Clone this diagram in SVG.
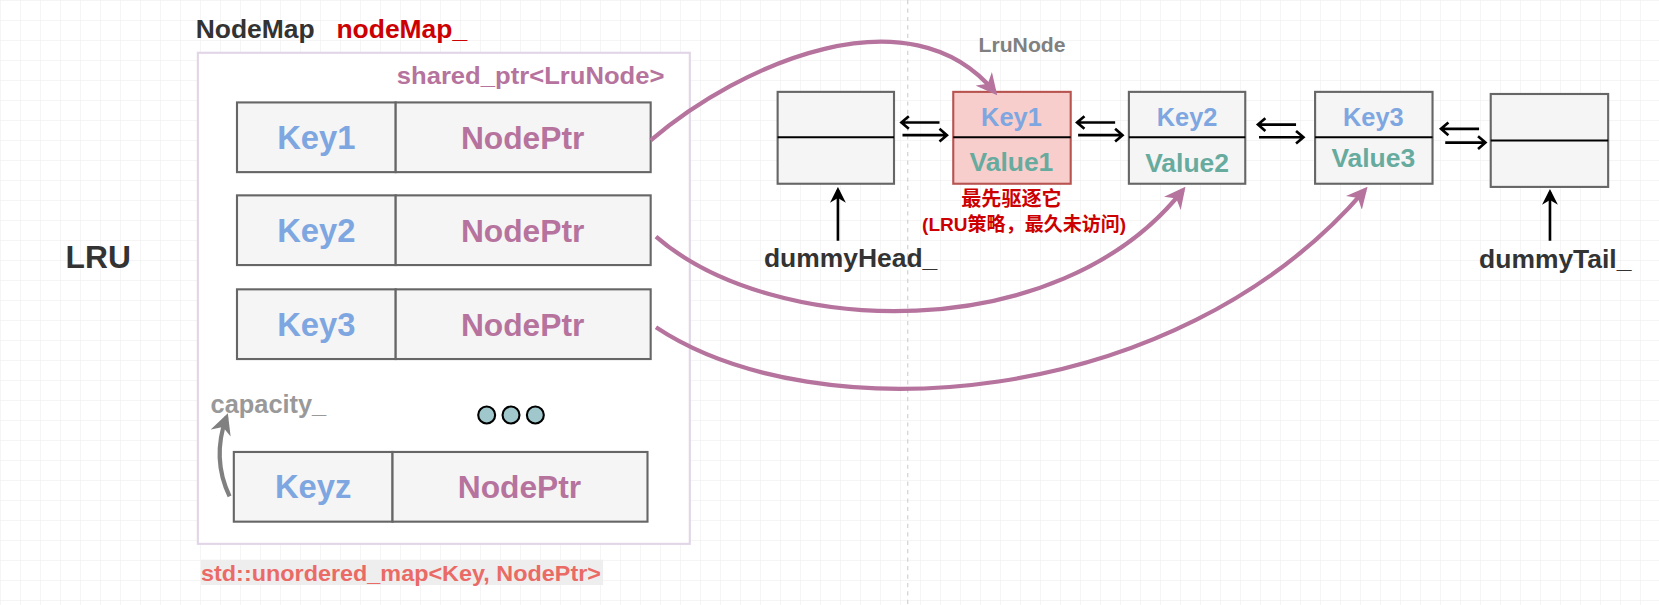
<svg xmlns="http://www.w3.org/2000/svg" width="1659" height="605" viewBox="0 0 1659 605">
<defs>
<pattern id="grid" width="20" height="20" patternUnits="userSpaceOnUse"><path d="M20 0H0V20" fill="none" stroke="#ececec" stroke-width="1"/></pattern>
<marker id="pk" viewBox="0 0 10 10" refX="8" refY="5" markerWidth="5" markerHeight="5" orient="auto"><path d="M0 0L10 5L0 10L3 5Z" fill="#b5739d"/></marker>
<marker id="bk" viewBox="0 0 10 10" refX="8" refY="5" markerWidth="6" markerHeight="6" orient="auto"><path d="M0 0L10 5L0 10L3 5Z" fill="#000"/></marker>
<marker id="gy" viewBox="0 0 10 10" refX="8" refY="5" markerWidth="5" markerHeight="5" orient="auto"><path d="M0 0L10 5L0 10L3 5Z" fill="#808080"/></marker>
<style>
text{font-family:"Liberation Sans",Arial,"Noto Sans CJK SC",sans-serif;font-weight:bold}
.cell{fill:#f5f5f5;stroke:#666;stroke-width:2}
.key{fill:#7ea6e0;font-size:31px}
.ptr{fill:#b5739d;font-size:30px}
.k{fill:#7ea6e0;font-size:24px}
.v{fill:#67ab9f;font-size:25px}
.lbl{fill:#333;font-size:25px}
.curve{fill:none;stroke:#b5739d;stroke-width:4;marker-end:url(#pk)}
.bl{stroke:#000;stroke-width:2.5;fill:none}
</style>
</defs>
<rect width="1659" height="605" fill="#fff"/>
<rect width="1659" height="605" fill="url(#grid)"/>
<g transform="scale(1.058,1.056)">
<line x1="858" y1="0" x2="858" y2="573" stroke="#ccc" stroke-dasharray="4 4"/>
<g id="lru"><text x="62" y="254" style="font-size:30px;fill:#333">LRU</text></g>
<g id="nodemap">
<rect x="187" y="50" width="465" height="465" fill="#fff" stroke="#e1d5e7" stroke-width="2"/>
<text x="185" y="36" style="font-size:25px;fill:#333">NodeMap</text>
<text x="318" y="36" style="font-size:25px;fill:#c00">nodeMap_</text>
<text x="375" y="80" style="font-size:22px;fill:#b5739d" textLength="253" lengthAdjust="spacingAndGlyphs">shared_ptr&lt;LruNode&gt;</text>
<rect x="190" y="530" width="380" height="24" fill="#eee"/>
<text x="190" y="550" style="font-size:21px;fill:#ea6b66" textLength="378" lengthAdjust="spacingAndGlyphs">std::unordered_map&lt;Key, NodePtr&gt;</text>
</g>
<g id="row1"><rect class="cell" x="224" y="97" width="150" height="66"/><rect class="cell" x="374" y="97" width="241" height="66"/><text class="key" x="299" y="141" text-anchor="middle">Key1</text><text class="ptr" x="494" y="141" text-anchor="middle">NodePtr</text></g>
<g id="row2"><rect class="cell" x="224" y="185" width="150" height="66"/><rect class="cell" x="374" y="185" width="241" height="66"/><text class="key" x="299" y="229" text-anchor="middle">Key2</text><text class="ptr" x="494" y="229" text-anchor="middle">NodePtr</text></g>
<g id="row3"><rect class="cell" x="224" y="274" width="150" height="66"/><rect class="cell" x="374" y="274" width="241" height="66"/><text class="key" x="299" y="318" text-anchor="middle">Key3</text><text class="ptr" x="494" y="318" text-anchor="middle">NodePtr</text></g>
<g id="rowz"><rect class="cell" x="221" y="428" width="150" height="66"/><rect class="cell" x="371" y="428" width="241" height="66"/><text class="key" x="296" y="472" text-anchor="middle">Keyz</text><text class="ptr" x="491" y="472" text-anchor="middle">NodePtr</text></g>
<g id="capacity"><text x="199" y="391" style="font-size:24px;fill:#999">capacity_</text></g>
<g id="dots" fill="#a0c8cc" stroke="#000" stroke-width="2"><circle cx="460" cy="393" r="8"/><circle cx="483" cy="393" r="8"/><circle cx="506" cy="393" r="8"/></g>
<g id="dummyHead"><rect class="cell" x="735" y="87" width="110" height="87"/><line x1="735" y1="130" x2="845" y2="130" stroke="#000" stroke-width="2"/><text class="lbl" x="804" y="253" text-anchor="middle">dummyHead_</text></g>
<g id="node1"><rect x="901" y="87" width="111" height="87" fill="#f8cecc" stroke="#b85450" stroke-width="2"/><line x1="901" y1="130" x2="1012" y2="130" stroke="#000" stroke-width="2"/><text class="k" x="956" y="119" text-anchor="middle">Key1</text><text class="v" x="956" y="162" text-anchor="middle">Value1</text>
<text x="966" y="49" text-anchor="middle" style="font-size:20px;fill:#808080">LruNode</text>
<text x="956" y="195" text-anchor="middle" style="font-size:19px;fill:#c00">最先驱逐它</text>
<text x="968" y="219" text-anchor="middle" style="font-size:18px;fill:#c00">(LRU策略，最久未访问)</text></g>
<g id="node2"><rect class="cell" x="1067" y="87" width="110" height="87"/><line x1="1067" y1="130" x2="1177" y2="130" stroke="#000" stroke-width="2"/><text class="k" x="1122" y="119" text-anchor="middle">Key2</text><text class="v" x="1122" y="163" text-anchor="middle">Value2</text></g>
<g id="node3"><rect class="cell" x="1243" y="87" width="111" height="87"/><line x1="1243" y1="130" x2="1354" y2="130" stroke="#000" stroke-width="2"/><text class="k" x="1298" y="119" text-anchor="middle">Key3</text><text class="v" x="1298" y="158" text-anchor="middle">Value3</text></g>
<g id="dummyTail"><rect class="cell" x="1409" y="89" width="111" height="88"/><line x1="1409" y1="133" x2="1520" y2="133" stroke="#000" stroke-width="2"/><text class="lbl" x="1470" y="254" text-anchor="middle">dummyTail_</text></g>
<g id="connectors">
<path class="curve" d="M615 133 C700 60 860 -10 940 87"/>
<path class="curve" d="M620 224 C730 320 1000 330 1118 180"/>
<path class="curve" d="M620 310 C770 410 1110 390 1290 180"/>
<path d="M217 470 C205 445 205 420 214 395" fill="none" stroke="#808080" stroke-width="4" marker-end="url(#gy)"/>
<path class="bl" d="M792 228 V180" marker-end="url(#bk)"/>
<path class="bl" d="M1465 228 V182" marker-end="url(#bk)"/>
<g class="bl">
<path d="M888 116 H853 M859 110 L852 116 L859 122"/><path d="M853 128 H894 M888 122 L895 128 L888 134"/>
<path d="M1054 116 H1019 M1025 110 L1018 116 L1025 122"/><path d="M1019 128 H1060 M1054 122 L1061 128 L1054 134"/>
<path d="M1225 118 H1190 M1196 112 L1189 118 L1196 124"/><path d="M1190 130 H1231 M1225 124 L1232 130 L1225 136"/>
<path d="M1398 122 H1363 M1369 116 L1362 122 L1369 128"/><path d="M1366 135 H1403 M1397 129 L1404 135 L1397 141"/>
</g>
</g>
</g>
</svg>
